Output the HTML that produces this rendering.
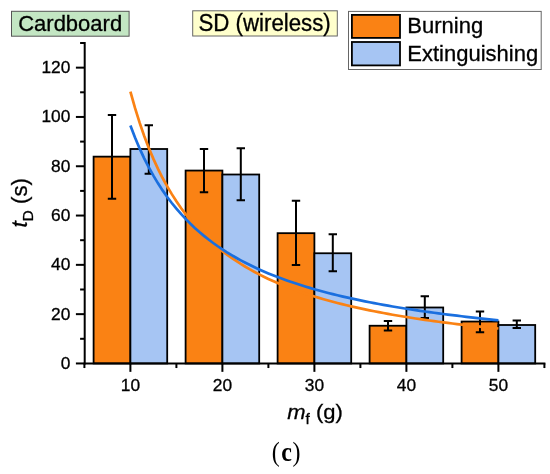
<!DOCTYPE html>
<html lang="en"><head><meta charset="utf-8"><title>Figure (c)</title>
<style>html,body{margin:0;padding:0;background:#fff}body{width:550px;height:474px;overflow:hidden}.s text{stroke:#000;stroke-width:.3px}</style></head>
<body>
<svg width="550" height="474" viewBox="0 0 550 474" style="display:block">
<rect width="550" height="474" fill="#fff"/>
<g class="s" font-family="'Liberation Sans', Arial, sans-serif" fill="#000">
<g stroke="#000" stroke-width="1.8">
<rect x="93.60" y="156.64" width="36.80" height="206.81" fill="#FA8214"/>
<rect x="130.40" y="149.00" width="36.80" height="214.45" fill="#A6C5F3"/>
<rect x="185.60" y="170.56" width="36.80" height="192.89" fill="#FA8214"/>
<rect x="222.40" y="174.51" width="36.80" height="188.94" fill="#A6C5F3"/>
<rect x="277.60" y="233.17" width="36.80" height="130.28" fill="#FA8214"/>
<rect x="314.40" y="253.26" width="36.80" height="110.19" fill="#A6C5F3"/>
<rect x="369.60" y="325.74" width="36.80" height="37.71" fill="#FA8214"/>
<rect x="406.40" y="307.49" width="36.80" height="55.96" fill="#A6C5F3"/>
<rect x="461.60" y="321.54" width="36.80" height="41.91" fill="#FA8214"/>
<rect x="498.40" y="325.00" width="36.80" height="38.45" fill="#A6C5F3"/>
</g>
<g stroke="#000" stroke-width="2" fill="none">
<path d="M112.00 198.79V114.98M107.80 198.79h8.4M107.80 114.98h8.4"/>
<path d="M148.80 173.65V125.33M144.60 173.65h8.4M144.60 125.33h8.4"/>
<path d="M204.00 192.13V149.00M199.80 192.13h8.4M199.80 149.00h8.4"/>
<path d="M240.80 200.27V148.26M236.60 200.27h8.4M236.60 148.26h8.4"/>
<path d="M296.00 265.10V200.76M291.80 265.10h8.4M291.80 200.76h8.4"/>
<path d="M332.80 271.26V234.28M328.60 271.26h8.4M328.60 234.28h8.4"/>
<path d="M388.00 330.42V321.05M383.80 330.42h8.4M383.80 321.05h8.4"/>
<path d="M424.80 318.09V296.16M420.60 318.09h8.4M420.60 296.16h8.4"/>
<path d="M480.00 332.14V311.44M475.80 332.14h8.4M475.80 311.44h8.4"/>
<path d="M516.80 327.95V320.56M512.60 327.95h8.4M512.60 320.56h8.4"/>
</g>
<path d="M130.40 91.56L135.00 107.96L139.60 122.67L144.20 135.94L148.80 147.96L153.40 158.88L158.00 168.86L162.60 178.00L167.20 186.41L171.80 194.15L176.40 201.32L181.00 207.95L185.60 214.12L190.20 219.87L194.80 225.23L199.40 230.25L204.00 234.95L208.60 239.36L213.20 243.51L217.80 247.41L222.40 251.10L227.00 254.58L231.60 257.87L236.20 260.99L240.80 263.95L245.40 266.76L250.00 269.44L254.60 271.98L259.20 274.40L263.80 276.71L268.40 278.92L273.00 281.03L277.60 283.04L282.20 284.97L286.80 286.82L291.40 288.59L296.00 290.29L300.60 291.92L305.20 293.49L309.80 295.00L314.40 296.45L319.00 297.85L323.60 299.20L328.20 300.49L332.80 301.74L337.40 302.95L342.00 304.12L346.60 305.24L351.20 306.33L355.80 307.39L360.40 308.41L365.00 309.39L369.60 310.35L374.20 311.27L378.80 312.17L383.40 313.04L388.00 313.89L392.60 314.71L397.20 315.50L401.80 316.27L406.40 317.02L411.00 317.75L415.60 318.46L420.20 319.15L424.80 319.82L429.40 320.48L434.00 321.11L438.60 321.73L443.20 322.34L447.80 322.92L452.40 323.50L457.00 324.06L461.60 324.60L466.20 325.13L470.80 325.65L475.40 326.16L480.00 326.65L484.60 327.14L489.20 327.61L493.80 328.07L498.40 328.52" fill="none" stroke="#FA8214" stroke-width="2.7"/>
<path d="M130.40 125.58L135.00 137.57L139.60 148.44L144.20 158.33L148.80 167.38L153.40 175.68L158.00 183.33L162.60 190.39L167.20 196.94L171.80 203.02L176.40 208.68L181.00 213.97L185.60 218.91L190.20 223.55L194.80 227.91L199.40 232.01L204.00 235.88L208.60 239.53L213.20 242.98L217.80 246.26L222.40 249.36L227.00 252.31L231.60 255.11L236.20 257.78L240.80 260.32L245.40 262.75L250.00 265.07L254.60 267.29L259.20 269.41L263.80 271.44L268.40 273.39L273.00 275.26L277.60 277.06L282.20 278.79L286.80 280.45L291.40 282.04L296.00 283.58L300.60 285.07L305.20 286.50L309.80 287.88L314.40 289.22L319.00 290.51L323.60 291.75L328.20 292.96L332.80 294.13L337.40 295.26L342.00 296.35L346.60 297.41L351.20 298.44L355.80 299.44L360.40 300.41L365.00 301.35L369.60 302.26L374.20 303.15L378.80 304.01L383.40 304.85L388.00 305.67L392.60 306.47L397.20 307.24L401.80 307.99L406.40 308.73L411.00 309.44L415.60 310.14L420.20 310.82L424.80 311.49L429.40 312.13L434.00 312.77L438.60 313.38L443.20 313.99L447.80 314.58L452.40 315.15L457.00 315.71L461.60 316.26L466.20 316.80L470.80 317.33L475.40 317.84L480.00 318.34L484.60 318.84L489.20 319.32L493.80 319.79L498.40 320.25" fill="none" stroke="#1A6FDF" stroke-width="2.7"/>
<g stroke="#000" stroke-width="2" fill="none">
<path d="M84.7 42.00V364.45"/>
<path d="M83.7 363.45H545.40"/>
<path d="M75.90 363.45H84.7"/>
<path d="M75.90 314.15H84.7"/>
<path d="M75.90 264.85H84.7"/>
<path d="M75.90 215.55H84.7"/>
<path d="M75.90 166.25H84.7"/>
<path d="M75.90 116.95H84.7"/>
<path d="M75.90 67.65H84.7"/>
<path d="M80.10 338.80H84.7"/>
<path d="M80.10 289.50H84.7"/>
<path d="M80.10 240.20H84.7"/>
<path d="M80.10 190.90H84.7"/>
<path d="M80.10 141.60H84.7"/>
<path d="M80.10 92.30H84.7"/>
<path d="M80.10 43.00H84.7"/>
<path d="M130.40 363.45V371.85"/>
<path d="M222.40 363.45V371.85"/>
<path d="M314.40 363.45V371.85"/>
<path d="M406.40 363.45V371.85"/>
<path d="M498.40 363.45V371.85"/>
<path d="M84.40 363.45V368.05"/>
<path d="M176.40 363.45V368.05"/>
<path d="M268.40 363.45V368.05"/>
<path d="M360.40 363.45V368.05"/>
<path d="M452.40 363.45V368.05"/>
<path d="M544.40 363.45V368.05"/>
</g>
<g font-size="17px">
<text transform="translate(70.4 368.95) scale(1.02 1.01)" font-size="17px" text-anchor="end">0</text>
<text transform="translate(70.4 319.65) scale(1.02 1.01)" font-size="17px" text-anchor="end">20</text>
<text transform="translate(70.4 270.35) scale(1.02 1.01)" font-size="17px" text-anchor="end">40</text>
<text transform="translate(70.4 221.05) scale(1.02 1.01)" font-size="17px" text-anchor="end">60</text>
<text transform="translate(70.4 171.75) scale(1.02 1.01)" font-size="17px" text-anchor="end">80</text>
<text transform="translate(70.4 122.45) scale(1.02 1.01)" font-size="17px" text-anchor="end">100</text>
<text transform="translate(70.4 73.15) scale(1.02 1.01)" font-size="17px" text-anchor="end">120</text>
<text transform="translate(130.5 391.2) scale(1.02 1.0)" font-size="17px" text-anchor="middle">10</text>
<text transform="translate(222.5 391.2) scale(1.02 1.0)" font-size="17px" text-anchor="middle">20</text>
<text transform="translate(314.5 391.2) scale(1.02 1.0)" font-size="17px" text-anchor="middle">30</text>
<text transform="translate(406.5 391.2) scale(1.02 1.0)" font-size="17px" text-anchor="middle">40</text>
<text transform="translate(498.5 391.2) scale(1.02 1.0)" font-size="17px" text-anchor="middle">50</text>
</g>
<text font-size="22px" text-anchor="middle" transform="translate(26.6 202.8) rotate(-90) scale(1.01 1)"><tspan font-style="italic">t</tspan><tspan font-size="15.5px" dy="6.1">D</tspan><tspan dy="-6.1"> (s)</tspan></text>
<text font-size="22px" text-anchor="middle" transform="translate(315 418.8) scale(1 0.94)"><tspan font-style="italic">m</tspan><tspan font-size="15.5px" dy="5.6">f</tspan><tspan dy="-5.6"> (g)</tspan></text>
<rect x="11.5" y="11.3" width="117.6" height="24.9" fill="#C3E6C3" stroke="#555" stroke-width="1"/>
<text transform="translate(18.2 31.0) scale(1.0 1.04)" font-size="22px" text-anchor="start">Cardboard</text>
<rect x="192.7" y="10.8" width="144.6" height="25.2" fill="#FFFFCC" stroke="#666" stroke-width="1"/>
<text transform="translate(198.5 31.0) scale(1.012 1.05)" font-size="22px" text-anchor="start">SD (wireless)</text>
<rect x="348.5" y="11.4" width="192.7" height="58.1" fill="#fff" stroke="#666" stroke-width="1"/>
<rect x="351.9" y="14.9" width="48.1" height="23" fill="#FA8214" stroke="#000" stroke-width="1.8"/>
<rect x="351.9" y="42" width="48.1" height="23.4" fill="#A6C5F3" stroke="#000" stroke-width="1.8"/>
<text transform="translate(407.3 33.2) scale(1.0 1.01)" font-size="22px" text-anchor="start">Burning</text>
<text transform="translate(407.3 60.8) scale(1.0 1.01)" font-size="22px" text-anchor="start">Extinguishing</text>
</g>
<g font-family="'Liberation Serif', 'Times New Roman', serif" font-size="24px" fill="#000">
<text transform="translate(0 461) scale(1 1.13)"><tspan x="271.7">(</tspan><tspan x="281.2" font-weight="bold">c</tspan><tspan x="292.5">)</tspan></text>
</g>
</svg>
</body></html>
